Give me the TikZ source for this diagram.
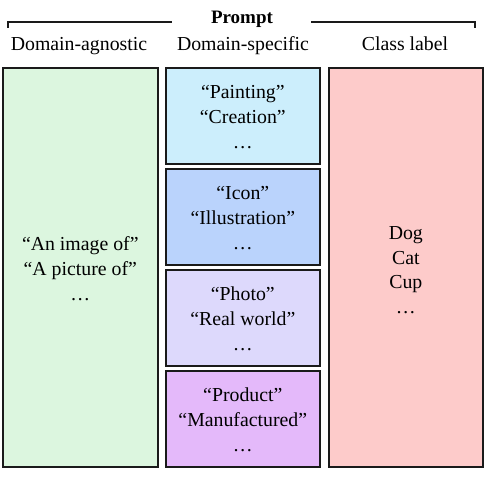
\documentclass[tikz,border=0pt]{standalone}
\usepackage{fontspec}
\setmainfont{Liberation Serif}
\definecolor{cgreen}{HTML}{DCF6DF}
\definecolor{ccyan}{HTML}{CCEEFC}
\definecolor{cblue}{HTML}{BAD3FC}
\definecolor{clav}{HTML}{DDD9FC}
\definecolor{cpurp}{HTML}{E4B9FA}
\definecolor{cpink}{HTML}{FDCBCA}
\definecolor{cline}{HTML}{1A1A1A}
\tikzset{
  panel/.style={draw=cline, line width=1.6pt, inner sep=0pt, anchor=north west},
  txt/.style={font=\fontsize{19.8}{25}\selectfont, align=center, inner sep=0pt},
  head/.style={font=\fontsize{19.8}{22}\selectfont, inner sep=0pt},
  brack/.style={draw=cline, line width=1.3pt}
}
\begin{document}
\begin{tikzpicture}[x=1pt,y=-1pt]
\useasboundingbox (0,0) rectangle (497,481);
% panels
\node[panel, fill=cgreen, minimum width=155pt, minimum height=399pt] (left) at (2,67) {};
\node[panel, fill=ccyan, minimum width=154pt, minimum height=96pt] (b1) at (165,67) {};
\node[panel, fill=cblue, minimum width=154pt, minimum height=96pt] (b2) at (165,168) {};
\node[panel, fill=clav, minimum width=154pt, minimum height=96pt] (b3) at (165,269) {};
\node[panel, fill=cpurp, minimum width=154pt, minimum height=96pt] (b4) at (165,370) {};
\node[panel, fill=cpink, minimum width=154pt, minimum height=399pt] (right) at (328,67) {};
% texts
\node[txt] (tl) at ([yshift=-1.5pt]left.center) {“An image of”\\“A picture of”\\…};
\node[txt] (t1) at ([yshift=-1pt]b1.center) {“Painting”\\“Creation”\\…};
\node[txt] (t2) at ([yshift=-1pt]b2.center) {“Icon”\\“Illustration”\\…};
\node[txt] (t3) at ([yshift=-1pt]b3.center) {“Photo”\\“Real world”\\…};
\node[txt] (t4) at ([yshift=-1pt]b4.center) {“Product”\\“Manufactured”\\…};
\node[txt, font=\fontsize{19.8}{24.5}\selectfont] (tr) at ([yshift=-3pt]right.center) {Dog\\Cat\\Cup\\…};
% headers
\node[head, anchor=base] (h1) at (79,51) {Domain-agnostic};
\node[head, anchor=base] (h2) at (243,51) {Domain-specific};
\node[head, anchor=base] (h3) at (405,51) {Class label};
\node[head, anchor=base, font=\fontsize{19}{22}\selectfont\bfseries] (prompt) at (242,24) {Prompt};
% bracket
\coordinate (bl0) at (8,28);
\coordinate (bl1) at (8,22);
\coordinate (bl2) at (172,22);
\coordinate (br0) at (475,28);
\coordinate (br1) at (475,22);
\coordinate (br2) at (311,22);
\draw[brack] (bl0) -- (bl1) -- (bl2);
\draw[brack] (br0) -- (br1) -- (br2);
\end{tikzpicture}
\end{document}
